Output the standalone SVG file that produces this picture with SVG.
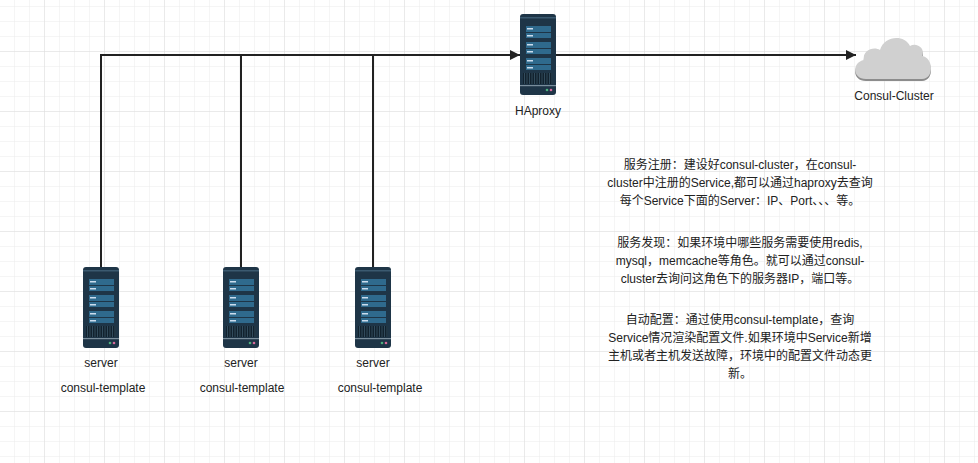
<svg xmlns="http://www.w3.org/2000/svg" width="978" height="463" viewBox="0 0 978 463">
<defs>
<pattern id="g" x="0" y="-8" width="15" height="15" patternUnits="userSpaceOnUse"><path d="M15 0V15M0 15H15" fill="none" stroke="#ebebeb" stroke-width="1"/></pattern>
<pattern id="G" x="-15" y="-8" width="60" height="60" patternUnits="userSpaceOnUse"><path d="M60 0V60M0 60H60" fill="none" stroke="#dedede" stroke-width="1"/></pattern>
<marker id="ar" viewBox="0 0 10 10" refX="10" refY="5" markerWidth="10" markerHeight="10" markerUnits="userSpaceOnUse" orient="auto"><path d="M0 0L10 5L0 10Z" fill="#222"/></marker>
<g id="srv">
<rect x="0" y="0" width="36" height="81" rx="3" fill="#1e3547"/>
<rect x="0" y="3" width="36" height="1.5" fill="#3b5a70"/>
<rect x="6" y="12" width="25" height="6" fill="#2f6a8d"/>
<rect x="6" y="19" width="25" height="5" fill="#2f6a8d"/>
<rect x="6" y="28" width="25" height="6" fill="#2f6a8d"/>
<rect x="6" y="35" width="25" height="5" fill="#2f6a8d"/>
<rect x="6" y="44" width="25" height="6" fill="#2f6a8d"/>
<rect x="6" y="51" width="25" height="5" fill="#2f6a8d"/>
<rect x="7" y="14" width="6" height="1.5" fill="#cde"/><rect x="7" y="21" width="6" height="1.5" fill="#cde"/>
<rect x="7" y="30" width="6" height="1.5" fill="#cde"/><rect x="7" y="37" width="6" height="1.5" fill="#cde"/>
<rect x="7" y="46" width="6" height="1.5" fill="#cde"/><rect x="7" y="53" width="6" height="1.5" fill="#cde"/>
<path d="M3 59H33V70H3Z" fill="#12222e"/>
<path d="M4.5 59V70M7 59V70M9.5 59V70M12 59V70M14.5 59V70M17 59V70M19.5 59V70M22 59V70M24.5 59V70M27 59V70M29.5 59V70M32 59V70" stroke="#3a5568" stroke-width="0.8"/>
<rect x="0" y="71" width="36" height="1.2" fill="#7a8e9c"/>
<circle cx="27" cy="76" r="1.3" fill="#4caf7d"/><circle cx="31" cy="76" r="1.3" fill="#d86a9a"/>
</g>
</defs>
<style>
.t{font-family:"Liberation Sans","Noto Sans CJK SC",sans-serif;font-size:12px;fill:#222;text-anchor:middle}
.c{font-family:"Liberation Sans","Noto Sans CJK SC",sans-serif;font-size:12px;fill:#222;text-anchor:middle}
.e{fill:none;stroke:#222;stroke-width:2}
</style>
<rect width="978" height="463" fill="#fff"/>
<rect width="978" height="463" fill="url(#g)"/>
<rect width="978" height="463" fill="url(#G)"/>
<g id="connectors">
<path class="e" d="M101 267V55H520" marker-end="url(#ar)"/>
<path class="e" d="M241 267V55"/>
<path class="e" d="M373 267V55"/>
<path class="e" d="M556 55H856" marker-end="url(#ar)"/>
</g>
<g id="haproxy"><use href="#srv" x="520" y="14"/><text class="t" x="538" y="115">HAproxy</text></g>
<g id="cloud">
<path d="M866 79C852 79 852 62 864 60C862 50 874 46 880 50C884 36 904 34 910 46C916 42 926 48 922 56C934 58 934 79 922 79Z" fill="#8c8c8c" transform="translate(0,2)"/>
<path d="M866 79C852 79 852 62 864 60C862 50 874 46 880 50C884 36 904 34 910 46C916 42 926 48 922 56C934 58 934 79 922 79Z" fill="#d0d0d0"/>
<text class="t" x="894" y="100">Consul-Cluster</text>
</g>
<g id="server1"><use href="#srv" x="83" y="267"/><text class="t" x="101" y="367">server</text><text class="t" x="103" y="392">consul-template</text></g>
<g id="server2"><use href="#srv" x="223" y="267"/><text class="t" x="241" y="367">server</text><text class="t" x="242" y="392">consul-template</text></g>
<g id="server3"><use href="#srv" x="355" y="267"/><text class="t" x="373" y="367">server</text><text class="t" x="380" y="392">consul-template</text></g>
<g id="notes">
<text class="c" x="740" y="169">服务注册：建设好consul-cluster，在consul-</text>
<text class="c" x="740" y="187">cluster中注册的Service,都可以通过haproxy去查询</text>
<text class="c" x="740" y="205">每个Service下面的Server：IP、Port、、、等。</text>
<text class="c" x="740" y="247">服务发现：如果环境中哪些服务需要使用redis,</text>
<text class="c" x="740" y="265">mysql，memcache等角色。就可以通过consul-</text>
<text class="c" x="740" y="283">cluster去询问这角色下的服务器IP，端口等。</text>
<text class="c" x="740" y="324">自动配置：通过使用consul-template，查询</text>
<text class="c" x="740" y="342">Service情况渲染配置文件.如果环境中Service新增</text>
<text class="c" x="740" y="360">主机或者主机发送故障，环境中的配置文件动态更</text>
<text class="c" x="740" y="378">新。</text>
</g>
</svg>
